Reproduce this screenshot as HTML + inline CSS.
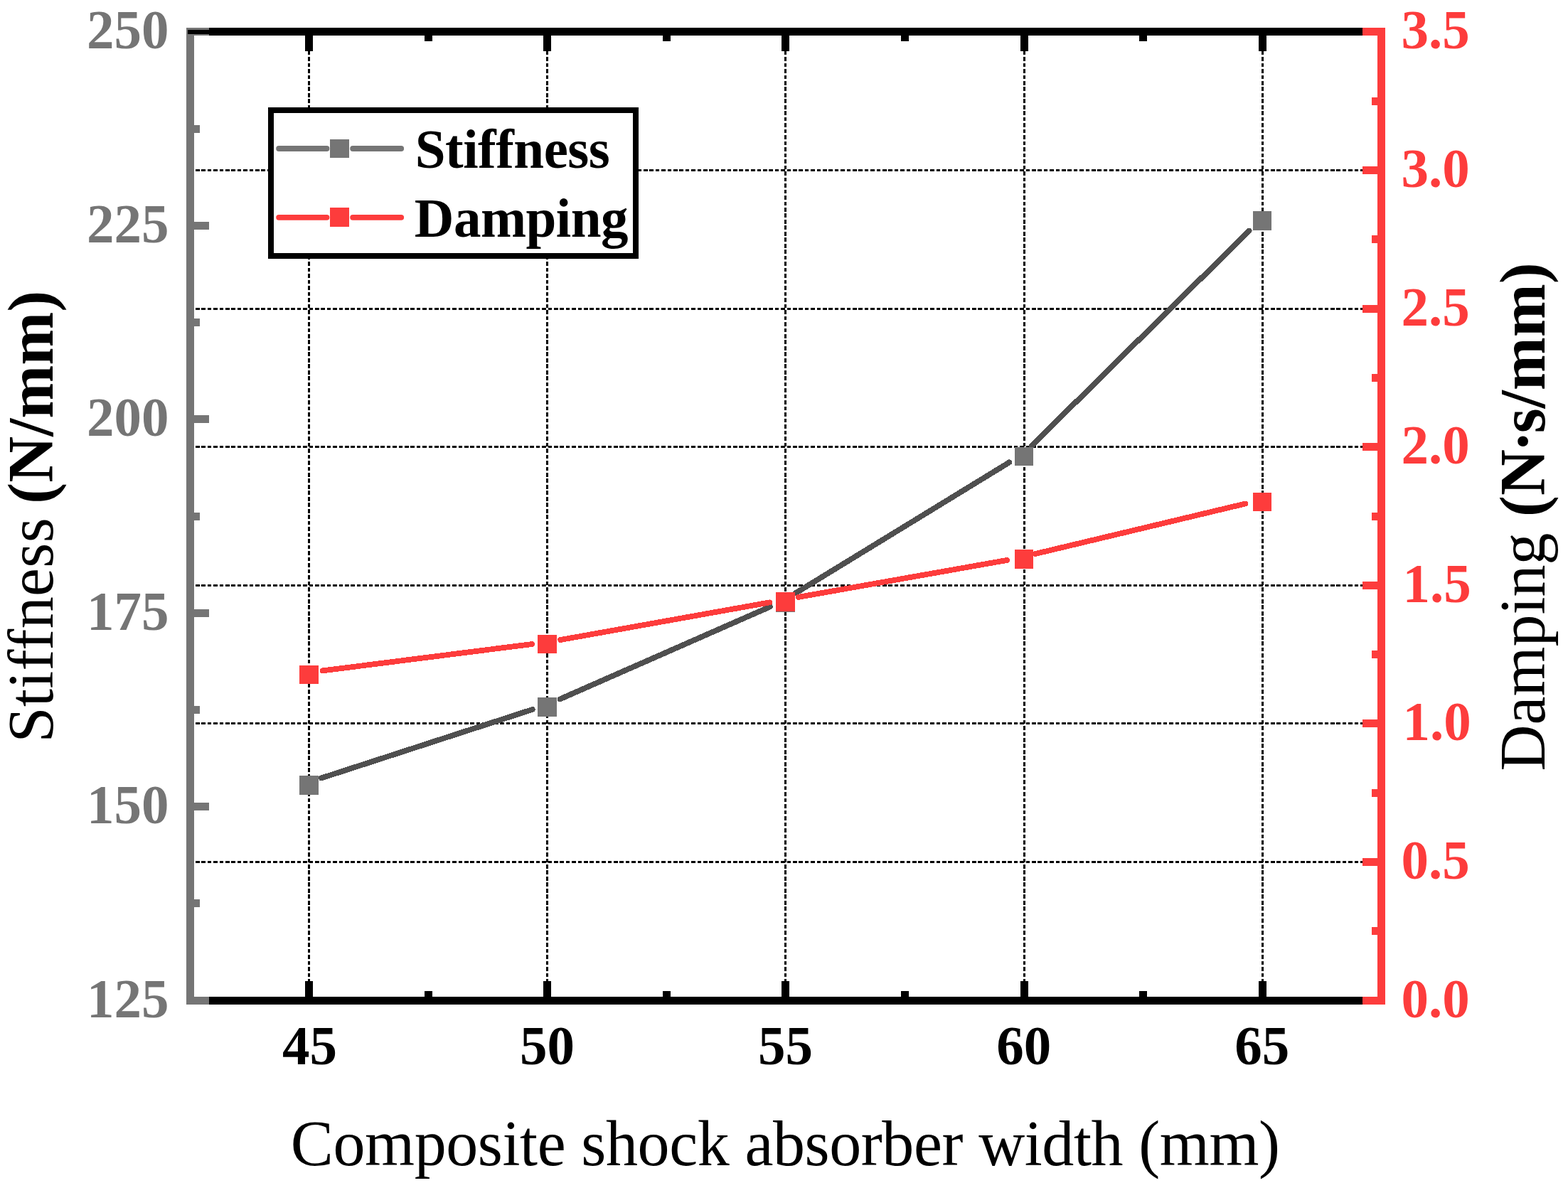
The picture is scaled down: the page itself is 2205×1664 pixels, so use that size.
<!DOCTYPE html>
<html lang="en"><head><meta charset="utf-8"><title>Composite shock absorber width</title>
<style>
html,body{margin:0;padding:0;background:#fff;}
body{width:2205px;height:1664px;overflow:hidden;}
svg{display:block;}
text{font-family:"Liberation Serif","Times New Roman",serif;}
.b{font-weight:bold;}
</style></head><body>
<svg width="2205" height="1664" viewBox="0 0 2205 1664">
<rect x="0" y="0" width="2205" height="1664" fill="#fff"/>
<g id="grid" stroke="#000" stroke-width="3" fill="none" shape-rendering="crispEdges">
<g stroke-dasharray="5.65 2.827">
<line x1="434.5" y1="71.6" x2="434.5" y2="1380"/>
<line x1="769.5" y1="71.6" x2="769.5" y2="1380"/>
<line x1="1104.5" y1="71.6" x2="1104.5" y2="1380"/>
<line x1="1440.5" y1="71.6" x2="1440.5" y2="1380"/>
<line x1="1775.5" y1="71.6" x2="1775.5" y2="1380"/>
</g>
<g stroke-dasharray="5.6 2.8">
<line x1="275" y1="239.5" x2="1916" y2="239.5"/>
<line x1="275" y1="434.5" x2="1916" y2="434.5"/>
<line x1="275" y1="628.5" x2="1916" y2="628.5"/>
<line x1="275" y1="823.5" x2="1916" y2="823.5"/>
<line x1="275" y1="1017.5" x2="1916" y2="1017.5"/>
<line x1="275" y1="1212.5" x2="1916" y2="1212.5"/>
</g>
</g>
<g id="axes" shape-rendering="crispEdges">
<rect x="262" y="39" width="1686" height="11" fill="#000"/>
<rect x="262" y="1402" width="1686" height="11" fill="#000"/>
<rect x="429" y="39" width="11" height="33" fill="#000"/>
<rect x="429" y="1380" width="11" height="33" fill="#000"/>
<rect x="764" y="39" width="11" height="33" fill="#000"/>
<rect x="764" y="1380" width="11" height="33" fill="#000"/>
<rect x="1099" y="39" width="11" height="33" fill="#000"/>
<rect x="1099" y="1380" width="11" height="33" fill="#000"/>
<rect x="1435" y="39" width="11" height="33" fill="#000"/>
<rect x="1435" y="1380" width="11" height="33" fill="#000"/>
<rect x="1770" y="39" width="11" height="33" fill="#000"/>
<rect x="1770" y="1380" width="11" height="33" fill="#000"/>
<rect x="597" y="39" width="11" height="19" fill="#000"/>
<rect x="597" y="1394" width="11" height="19" fill="#000"/>
<rect x="932" y="39" width="11" height="19" fill="#000"/>
<rect x="932" y="1394" width="11" height="19" fill="#000"/>
<rect x="1267" y="39" width="11" height="19" fill="#000"/>
<rect x="1267" y="1394" width="11" height="19" fill="#000"/>
<rect x="1602" y="39" width="11" height="19" fill="#000"/>
<rect x="1602" y="1394" width="11" height="19" fill="#000"/>
<rect x="262" y="39" width="11" height="1374" fill="#757575"/>
<rect x="262" y="39" width="32" height="11" fill="#757575"/>
<rect x="262" y="312" width="32" height="11" fill="#757575"/>
<rect x="262" y="584" width="32" height="11" fill="#757575"/>
<rect x="262" y="857" width="32" height="11" fill="#757575"/>
<rect x="262" y="1129" width="32" height="11" fill="#757575"/>
<rect x="262" y="1402" width="32" height="11" fill="#757575"/>
<rect x="262" y="176" width="19" height="11" fill="#757575"/>
<rect x="262" y="448" width="19" height="11" fill="#757575"/>
<rect x="262" y="721" width="19" height="11" fill="#757575"/>
<rect x="262" y="993" width="19" height="11" fill="#757575"/>
<rect x="262" y="1265" width="19" height="11" fill="#757575"/>
<rect x="264" y="42" width="30" height="6" fill="#000"/>
<rect x="1937" y="39" width="11" height="1374" fill="#fd3c3c"/>
<rect x="1916" y="39" width="32" height="11" fill="#fd3c3c"/>
<rect x="1916" y="234" width="32" height="11" fill="#fd3c3c"/>
<rect x="1916" y="429" width="32" height="11" fill="#fd3c3c"/>
<rect x="1916" y="623" width="32" height="11" fill="#fd3c3c"/>
<rect x="1916" y="818" width="32" height="11" fill="#fd3c3c"/>
<rect x="1916" y="1012" width="32" height="11" fill="#fd3c3c"/>
<rect x="1916" y="1207" width="32" height="11" fill="#fd3c3c"/>
<rect x="1916" y="1402" width="32" height="11" fill="#fd3c3c"/>
<rect x="1929" y="137" width="19" height="11" fill="#fd3c3c"/>
<rect x="1929" y="331" width="19" height="11" fill="#fd3c3c"/>
<rect x="1929" y="526" width="19" height="11" fill="#fd3c3c"/>
<rect x="1929" y="721" width="19" height="11" fill="#fd3c3c"/>
<rect x="1929" y="915" width="19" height="11" fill="#fd3c3c"/>
<rect x="1929" y="1110" width="19" height="11" fill="#fd3c3c"/>
<rect x="1929" y="1304" width="19" height="11" fill="#fd3c3c"/>
</g>
<g id="series-stiffness">
<g stroke="#4f4f4f" stroke-width="7.8" stroke-linecap="round" fill="none" shape-rendering="crispEdges">
<line x1="452.0" y1="1094.4" x2="748.9" y2="997.9"/>
<line x1="787.6" y1="983.3" x2="1083.0" y2="853.4"/>
<line x1="1119.1" y1="834.1" x2="1419.2" y2="650.4"/>
<line x1="1451" y1="626.8" x2="1756.5" y2="324.8"/>
</g>
<g fill="#757575" shape-rendering="crispEdges">
<rect x="421.3" y="1091.4" width="26.4" height="26.2"/>
<rect x="756.3" y="981.4" width="26.4" height="26.2"/>
<rect x="1091.3" y="834.4" width="26.4" height="26.2"/>
<rect x="1426.8" y="628.9" width="26.4" height="26.2"/>
<rect x="1761.8" y="297.4" width="26.4" height="26.2"/>
</g>
</g>
<g id="series-damping">
<g stroke="#fd3c3c" stroke-width="7.8" stroke-linecap="round" fill="none" shape-rendering="crispEdges">
<line x1="453.7" y1="943.4" x2="748.1" y2="906.0"/>
<line x1="788.2" y1="900.0" x2="1082.1" y2="847.4"/>
<line x1="1122.7" y1="839.9" x2="1416.2" y2="787.9"/>
<line x1="1456.4" y1="778.9" x2="1751.2" y2="708.5"/>
</g>
<g fill="#fd3c3c" shape-rendering="crispEdges">
<rect x="421.3" y="935.9" width="26.4" height="26.2"/>
<rect x="756.3" y="892.9" width="26.4" height="26.2"/>
<rect x="1091.3" y="833.4" width="26.4" height="26.2"/>
<rect x="1426.8" y="773.4" width="26.4" height="26.2"/>
<rect x="1761.8" y="692.9" width="26.4" height="26.2"/>
</g>
</g>
<g id="legend">
<rect x="381" y="155" width="513" height="205" fill="#fff" stroke="#000" stroke-width="8" shape-rendering="crispEdges"/>
<g stroke="#757575" stroke-width="7.8" stroke-linecap="round">
<line x1="392.1" y1="209" x2="459.5" y2="209"/>
<line x1="496.1" y1="209" x2="564.2" y2="209"/>
</g>
<rect x="464" y="196" width="27" height="26" fill="#757575" shape-rendering="crispEdges"/>
<text class="b" transform="translate(583.7,236.0) scale(1,1.02)" font-size="77" letter-spacing="-0.5">Stiffness</text>
<g stroke="#fd3c3c" stroke-width="7.8" stroke-linecap="round">
<line x1="392.1" y1="305.8" x2="459.5" y2="305.8"/>
<line x1="496.1" y1="305.8" x2="564.2" y2="305.8"/>
</g>
<rect x="464" y="292" width="27" height="27" fill="#fd3c3c" shape-rendering="crispEdges"/>
<text class="b" transform="translate(582.8,332.9) scale(1,1.02)" font-size="77" letter-spacing="-0.5">Damping</text>
</g>
<g id="ticks-left" class="b" font-size="77" fill="#757575" text-anchor="end">
<text transform="translate(237.6,67.9) scale(1,1.02)">250</text>
<text transform="translate(237.6,340.9) scale(1,1.02)">225</text>
<text transform="translate(237.6,612.9) scale(1,1.02)">200</text>
<text transform="translate(237.6,885.9) scale(1,1.02)">175</text>
<text transform="translate(237.6,1157.9) scale(1,1.02)">150</text>
<text transform="translate(237.6,1430.9) scale(1,1.02)">125</text>
</g>
<g id="ticks-right" class="b" font-size="77" fill="#fd3c3c" text-anchor="start">
<text transform="translate(1970.6,67.9) scale(1,1.02)">3.5</text>
<text transform="translate(1970.6,262.9) scale(1,1.02)">3.0</text>
<text transform="translate(1970.6,457.9) scale(1,1.02)">2.5</text>
<text transform="translate(1970.6,651.9) scale(1,1.02)">2.0</text>
<text transform="translate(1972.6,846.9) scale(1,1.02)">1.5</text>
<text transform="translate(1972.6,1040.9) scale(1,1.02)">1.0</text>
<text transform="translate(1970.6,1235.9) scale(1,1.02)">0.5</text>
<text transform="translate(1970.6,1430.9) scale(1,1.02)">0.0</text>
</g>
<g id="ticks-bottom" class="b" font-size="77" fill="#000" text-anchor="middle">
<text transform="translate(435.5,1496.8) scale(1,1.02)">45</text>
<text transform="translate(769.5,1496.8) scale(1,1.02)">50</text>
<text transform="translate(1104.5,1496.8) scale(1,1.02)">55</text>
<text transform="translate(1439.7,1496.8) scale(1,1.02)">60</text>
<text transform="translate(1774.7,1496.8) scale(1,1.02)">65</text>
</g>
<g id="titles">
<text x="408.8" y="1639.2" font-size="90" letter-spacing="-0.4" fill="#000">Composite shock absorber width (mm)</text>
<text transform="translate(74,1044.5) rotate(-90)" font-size="90" fill="#000"><tspan letter-spacing="0.35">Stiffness </tspan><tspan class="b" dx="-3.5">(N/mm)</tspan></text>
<text transform="translate(2172.1,1084.5) rotate(-90)" font-size="90" fill="#000">Damping <tspan class="b">(N<tspan dx="-3.7">·</tspan><tspan dx="-3.5">s/mm)</tspan></tspan></text>
</g>
</svg>
</body></html>
